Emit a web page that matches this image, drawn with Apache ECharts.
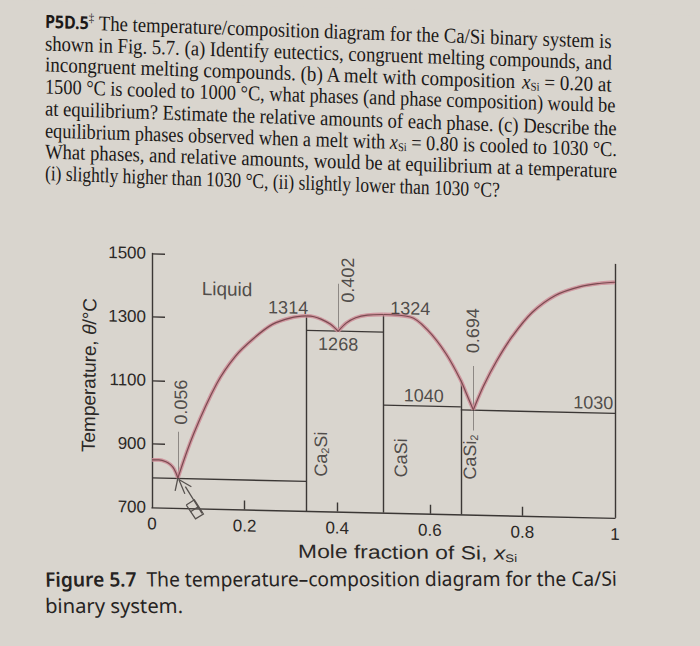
<!DOCTYPE html>
<html><head><meta charset="utf-8">
<script src="https://cdn.jsdelivr.net/npm/echarts@6/dist/echarts.min.js"></script>
<style>
html,body{margin:0;padding:0;background:#d9d5ce;overflow:hidden;}
#c{width:700px;height:646px;transform:skewY(1.29deg);transform-origin:0 0;}
</style></head><body><div id="c"></div>
<script>
// ---------------- data ----------------
const xTickLabels = [0, 0.2, 0.4, 0.6, 0.8, 1];
const xTickMarks = [0.2, 0.4, 0.6, 0.8];
const yTickLabels = [700, 900, 1100, 1300, 1500];
const yTickMarks = [900, 1100, 1300, 1500];

// liquidus branches [x_Si, T/°C]
const liquidusCa        = [[0,850],[0.015,850],[0.03,845],[0.04,836],[0.048,822],[0.056,795]];
const liquidusCa2SiLeft = [[0.056,795],[0.09,935],[0.14,1095],[0.18,1182],[0.22,1240],[0.26,1285],[0.30,1307],[0.333,1314]];
const liquidusCa2SiRight= [[0.333,1314],[0.35,1312],[0.365,1305],[0.385,1290],[0.402,1268]];
const liquidusCaSiLeft  = [[0.402,1268],[0.42,1295],[0.44,1312],[0.465,1321],[0.5,1324]];
const liquidusCaSiRight = [[0.5,1324],[0.558,1318],[0.596,1277],[0.635,1205],[0.667,1122],[0.679,1081],[0.694,1030]];
const liquidusSi        = [[0.694,1030],[0.716,1106],[0.744,1185],[0.778,1264],[0.821,1341],[0.872,1397],[0.925,1426],[0.97,1438],[1,1442]];

// compounds (vertical lines)
const compoundX   = [0.333, 0.5, 0.667];
const compoundTop = [1314, 1324, 1122];
const compoundNames = ['Ca{s|2}Si', 'CaSi', 'CaSi{s|2}'];

// invariant (horizontal) lines
const invariantT  = [795, 1268, 1040, 1030];
const invariantX0 = [0, 0.333, 0.5, 0.667];
const invariantX1 = [0.333, 0.5, 0.667, 1];

// composition markers
const markerX    = [0.056, 0.402, 0.694];
const markerLow  = [795, 1268, 965];
const markerHigh = [940, 1418, 1168];
const markerText = ['0.056', '0.402', '0.694'];

// temperature labels
const tempText = ['1314', '1268', '1324', '1040', '1030'];

// handwritten pen marks near the first eutectic
const penStrokes = [
  [[0.056,795],[0.050,754]],
  [[0.058,790],[0.085,768]],
  [[0.058,790],[0.071,745]],
  [[0.072,768],[0.108,685]],
  [[0.074,710],[0.0915,727],[0.111,683],[0.094,667],[0.074,710]],
  [[0.083,689],[0.100,705]]
];

// ---------------- layout (label anchors, in data units) ----------------
const tempPos     = [[0.294,1339],[0.402,1227],[0.558,1345],[0.587,1071],[0.953,1061]];
const liquidPos   = [0.162, 1393];
const compoundPos = [[0.366,880],[0.538,874],[0.687,881]];
const markerPos   = [[0.062,1034],[0.423,1430],[0.694,1280]];

// ---------------- styles ----------------
const INK = '#2b2826';
const LINE = '#3b3735';
const SANS = 'Liberation Sans';
const SK = 0.0225; // page skew (photo)

const ctx = document.createElement('canvas').getContext('2d');
function loc(x, y) { return [x, y - SK * x]; }
function fontStr(s) { return (s.fontStyle||'normal')+' '+(s.fontWeight||'normal')+' '+s.fontSize+'px "'+s.fontFamily+'"'; }
function textLine(tokens, styles, x0, y0, x1, y1, fill) {
  let str = '', w = 0;
  tokens.forEach(([k, t]) => { ctx.font = fontStr(styles[k]); w += ctx.measureText(t).width; str += '{' + k + '|' + t + '}'; });
  const p0 = loc(x0, y0), p1 = loc(x1, y1);
  const ang = Math.atan2(p1[1] - p0[1], p1[0] - p0[0]);
  const len = Math.hypot(p1[0] - p0[0], p1[1] - p0[1]);
  const st = { text: str, rich: styles, fill: fill, align: 'left', verticalAlign: 'middle', textAlign: 'left', textVerticalAlign: 'middle',
      font: fontStr(styles[tokens[0][0]]) };
  return { type: 'text', x: p0[0], y: p0[1], rotation: -ang, scaleX: len / w, z: 20, silent: true, style: st };
}

const serif = 'Liberation Serif';
const PF = '#1c1918';
const paraStyles = {
  n:   { fontFamily: serif, fontSize: 21, lineHeight: 22, verticalAlign: 'middle', fill: PF },
  i:   { fontFamily: serif, fontSize: 21, fontStyle: 'italic', lineHeight: 22, verticalAlign: 'middle', fill: PF },
  sub: { fontFamily: serif, fontSize: 12, lineHeight: 12, verticalAlign: 'bottom', fill: PF },
  b:   { fontFamily: 'Noto Sans', fontSize: 18, fontWeight: 'bold', lineHeight: 22, verticalAlign: 'middle', fill: PF },
  sup: { fontFamily: serif, fontSize: 12, lineHeight: 12, verticalAlign: 'top', fill: PF }
};
const paraLines = [
  [['b','P5D.5'],['sup','‡'],['n',' '],['n','The temperature/composition diagram for the Ca/Si binary system is']],
  [['n','shown in Fig. 5.7. (a) Identify eutectics, congruent melting compounds, and']],
  [['n','incongruent melting compounds. (b) A melt with composition '],['i','x'],['sub','Si'],['n',' = 0.20 at']],
  [['n','1500 °C is cooled to 1000 °C, what phases (and phase composition) would be']],
  [['n','at equilibrium? Estimate the relative amounts of each phase. (c) Describe the']],
  [['n','equilibrium phases observed when a melt with '],['i','x'],['sub','Si'],['n',' = 0.80 is cooled to 1030 °C.']],
  [['n','What phases, and relative amounts, would be at equilibrium at a temperature']],
  [['n','(i) slightly higher than 1030 °C, (ii) slightly lower than 1030 °C?']]
];
const paraGeom = [
  [45,21,612,41],[45,43,612,62],[45,64,612,84],[45,86,616,105],
  [45,108,617,128],[45,130,617,149],[45,151,617,170],[45,173,500,190]
];

const capStyles = {
  fb: { fontFamily: 'Noto Sans', fontSize: 20, fontWeight: 600, lineHeight: 24, verticalAlign: 'middle', fill: '#262322' },
  f:  { fontFamily: 'Noto Sans', fontSize: 20, lineHeight: 24, verticalAlign: 'middle', fill: '#262322' }
};
const capLines = [
  [['fb','Figure 5.7'],['f','  '],['f','The temperature–composition diagram for the Ca/Si']],
  [['f','binary system.']]
];
const capGeom = [[45,579,617,578],[45,606,183,606]];

const axStyles = {
  a:   { fontFamily: SANS, fontSize: 19, lineHeight: 22, verticalAlign: 'middle', fill: INK },
  ai:  { fontFamily: SANS, fontSize: 19, fontStyle: 'italic', lineHeight: 22, verticalAlign: 'middle', fill: INK },
  as:  { fontFamily: SANS, fontSize: 11, lineHeight: 11, verticalAlign: 'bottom', fill: INK }
};

const graphics = [];
paraLines.forEach((t, k) => graphics.push(textLine(t, paraStyles, ...paraGeom[k], PF)));
capLines.forEach((t, k) => graphics.push(textLine(t, capStyles, ...capGeom[k], '#262322')));
graphics.push(textLine([['a','Mole fraction of Si, '],['ai','x'],['as','Si']], axStyles, 298, 551, 517, 553, INK));
const yt = loc(89, 375);
graphics.push({ type: 'text', x: yt[0], y: yt[1], rotation: Math.PI / 2 - 0.01, z: 20, silent: true,
  style: { text: '{a|Temperature, }{ai|θ}{a|/°C}', rich: axStyles, align: 'center', verticalAlign: 'middle', textAlign: 'center', textVerticalAlign: 'middle', fill: INK } });

// ---------------- series ----------------
const series = [];
[liquidusCa, liquidusCa2SiLeft, liquidusCa2SiRight, liquidusCaSiLeft, liquidusCaSiRight, liquidusSi].forEach(d => {
  series.push({ type: 'line', data: d, showSymbol: false, smooth: 0.35, silent: true, z: 3,
    lineStyle: { width: 3.8, color: 'rgba(204,140,150,0.85)' } });
  series.push({ type: 'line', data: d, showSymbol: false, smooth: 0.35, silent: true, z: 4,
    lineStyle: { width: 1.2, color: '#7a4a50' } });
});

const blackSegs = [];
compoundX.forEach((x, i) => blackSegs.push({ coords: [[x, 700], [x, compoundTop[i]]] }));
blackSegs.push({ coords: [[1, 700], [1, 1500]] });
invariantT.forEach((T, i) => blackSegs.push({ coords: [[invariantX0[i], T], [invariantX1[i], T]] }));
series.push({ type: 'lines', coordinateSystem: 'cartesian2d', data: blackSegs, silent: true, z: 2,
  lineStyle: { width: 1.4, color: LINE, opacity: 1 } });

series.push({ type: 'lines', coordinateSystem: 'cartesian2d', silent: true, z: 1,
  data: markerX.map((x, i) => ({ coords: [[x, markerLow[i]], [x, markerHigh[i]]] })),
  lineStyle: { width: 1, color: '#8d8884', opacity: 1 } });

series.push({ type: 'lines', coordinateSystem: 'cartesian2d', polyline: true, silent: true, z: 5, clip: false,
  data: penStrokes.map(s => ({ coords: s })),
  lineStyle: { width: 1.3, color: '#55504d', opacity: 1 } });

function labelSeries(pts, texts, opts) {
  return { type: 'scatter', symbolSize: 0, silent: true, z: 10, clip: false,
    data: pts.map((p, i) => ({ value: p, label: { formatter: texts[i] } })),
    label: Object.assign({ show: true, position: 'inside', color: INK, fontFamily: SANS, fontSize: 18 }, opts) };
}
series.push(labelSeries(tempPos, tempText, {}));
series.push(labelSeries([liquidPos], ['Liquid'], { fontSize: 19 }));
series.push(labelSeries(compoundPos, compoundNames, { rotate: 90, fontSize: 18,
  rich: { s: { fontSize: 11, fontFamily: SANS, color: INK, verticalAlign: 'bottom', lineHeight: 11 } } }));
series.push(labelSeries(markerPos, markerText, { rotate: 90, fontSize: 18 }));

const option = {
  backgroundColor: '#d9d5ce',
  animation: false,
  grid: { left: 152, top: 250, width: 463, height: 254 },
  xAxis: {
    type: 'value', min: 0, max: 1, interval: 0.2,
    axisLine: { show: true, lineStyle: { color: LINE, width: 1.4 } },
    axisTick: { show: true, inside: true, length: 9, customValues: xTickMarks, lineStyle: { color: LINE, width: 1.4 } },
    axisLabel: { customValues: xTickLabels, fontSize: 17, fontFamily: SANS, color: INK, margin: 8, formatter: v => String(v) },
    splitLine: { show: false }
  },
  yAxis: {
    type: 'value', min: 700, max: 1500, interval: 100,
    axisLine: { show: true, lineStyle: { color: LINE, width: 1.4 } },
    axisTick: { show: true, inside: true, length: 13, customValues: yTickMarks, lineStyle: { color: LINE, width: 1.4 } },
    axisLabel: { customValues: yTickLabels, fontSize: 17, fontFamily: SANS, color: INK, margin: 6, formatter: v => String(v) },
    splitLine: { show: false }
  },
  graphic: graphics,
  series: series
};
const chart = echarts.init(document.getElementById('c'), null, { renderer: 'svg', width: 700, height: 646 });
chart.setOption(option);
</script></body></html>
